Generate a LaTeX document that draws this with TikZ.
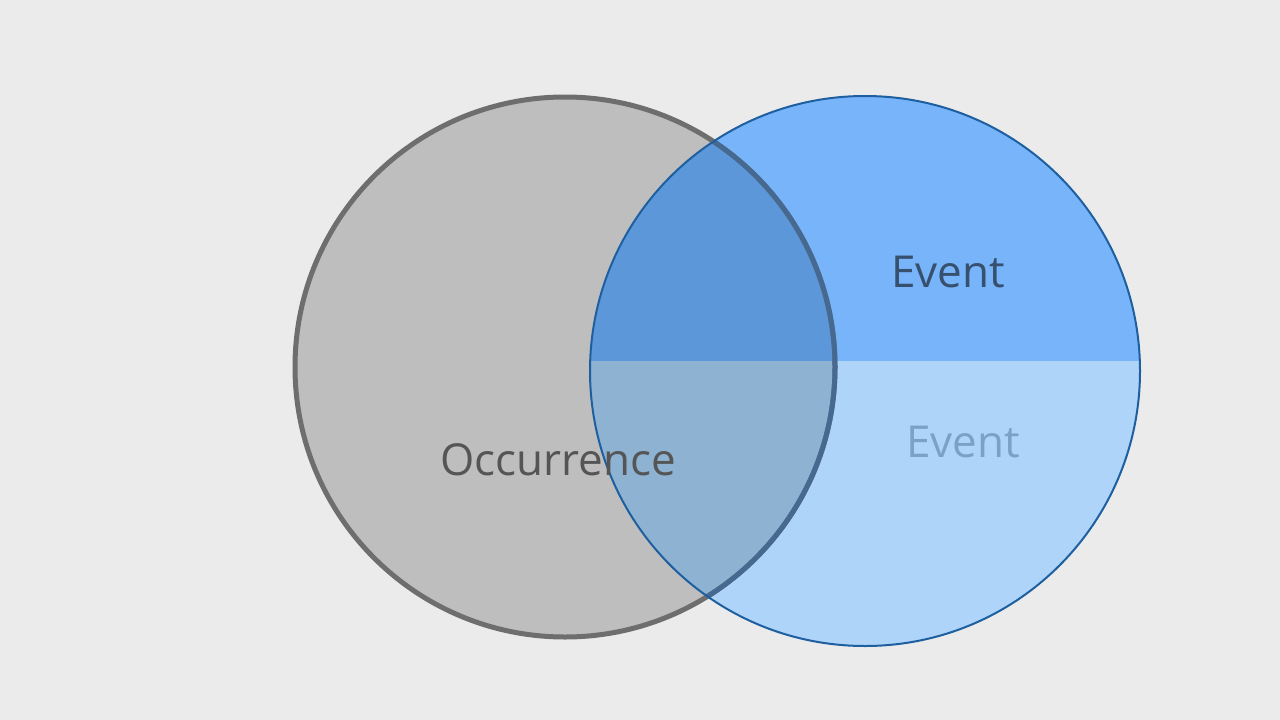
\documentclass[tikz,border=0pt]{standalone}
\usepackage{fontspec}
\setmainfont{Open Sans}
\definecolor{bg}{RGB}{235,235,235}
\definecolor{gfill}{RGB}{190,190,190}
\definecolor{btop}{RGB}{120,180,250}
\definecolor{itop}{RGB}{91,151,217}
\definecolor{bbot}{RGB}{174,212,250}
\definecolor{ibot}{RGB}{141,178,210}
\definecolor{gline}{RGB}{110,110,110}
\definecolor{giline}{RGB}{70,105,145}
\definecolor{bline}{RGB}{30,95,160}
\definecolor{toccur}{RGB}{85,85,85}
\definecolor{tev1}{RGB}{55,80,110}
\definecolor{tev2}{RGB}{125,160,200}
\begin{document}
\begin{tikzpicture}[x=1pt,y=-1pt,
  lbl/.style={font=\fontsize{44}{50}\selectfont, inner sep=0pt}]
\useasboundingbox[fill=bg] (0,0) rectangle (1280,720);
\fill[gfill] (565,367) circle (270);
\begin{scope}
\clip (0,0) rectangle (1280,361);
\fill[btop] (865,371) circle (275);
\clip (565,367) circle (270);
\fill[itop] (865,371) circle (275);
\end{scope}
\begin{scope}
\clip (0,361) rectangle (1280,720);
\fill[bbot] (865,371) circle (275);
\clip (565,367) circle (270);
\fill[ibot] (865,371) circle (275);
\end{scope}
\draw[line width=5pt,gline] (565,367) circle (270);
\begin{scope}
\clip (865,371) circle (275);
\draw[line width=5pt,giline] (565,367) circle (270);
\end{scope}
\draw[line width=2pt,bline] (865,371) circle (275);
\node[lbl,text=toccur] (occ) at (558,460) {Occurrence};
\node[lbl,text=tev1] (ev1) at (948,272) {Event};
\node[lbl,text=tev2] (ev2) at (963,442) {Event};
\end{tikzpicture}
\end{document}
